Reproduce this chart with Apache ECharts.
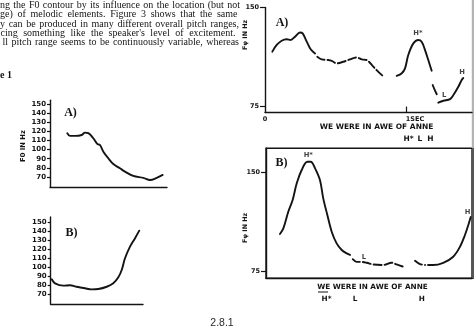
<!DOCTYPE html>
<html>
<head>
<meta charset="utf-8">
<script src="https://cdn.jsdelivr.net/npm/echarts@6/dist/echarts.min.js"></script>
<style>
html,body{margin:0;padding:0;background:#fff}
#c{width:474px;height:333px}
</style>
</head>
<body>
<div id="c"></div>
<script>
// Paragraph running above the figures
const bodyLines = [
  'ng the F0 contour by its influence on the location (but not',
  'ge) of melodic elements.  Figure 3 shows that the same',
  'y can be produced in many different overall pitch ranges,',
  'cing something like the speaker\'s level of excitement.',
  'll pitch range seems to be continuously variable, whereas'
];
const figLabel = 'e 1';
const pageNumber = '2.8.1';
const sentence = 'WE WERE IN AWE OF ANNE';

// Tick labels
const leftTicks = [70, 80, 90, 100, 110, 120, 130, 140, 150];
const rightTicks = [75, 150];
const timeTicks = [0, 1];

// Small panels (left): [relative time, F0 Hz]
const contourLA = [
  [0.148, 117.9], [0.171, 115], [0.214, 115], [0.271, 116], [0.299, 118.6],
  [0.328, 118], [0.370, 112.4], [0.404, 106.2], [0.427, 105], [0.456, 97.7],
  [0.498, 90.5], [0.541, 84.2], [0.598, 79.5], [0.641, 75.8], [0.712, 71.1],
  [0.797, 69], [0.855, 66.7], [0.912, 69], [0.963, 72.2]
];
const contourLB = [
  [0.009, 86.7], [0.037, 82.2], [0.108, 79.6], [0.165, 80], [0.222, 78.4],
  [0.293, 76.7], [0.350, 75.5], [0.407, 75.9], [0.479, 78.4], [0.535, 82.2],
  [0.578, 88.9], [0.607, 97], [0.635, 110], [0.678, 123], [0.721, 132.3],
  [0.757, 140.7]
];

// Large panel A: [seconds, F0 Hz], one array per drawn stretch
const raSeg1 = [
  [0.052, 116.4], [0.083, 121.5], [0.118, 124.7], [0.154, 125.8], [0.182, 125.3],
  [0.213, 127.8], [0.248, 131], [0.267, 130.3], [0.296, 124], [0.324, 118.2],
  [0.355, 115]
];
const raSeg2 = [
  [0.371, 112.5], [0.402, 110.5], [0.449, 110], [0.473, 109.3], [0.509, 107.5],
  [0.555, 108.7], [0.603, 110.5], [0.650, 112], [0.686, 110.5], [0.721, 110],
  [0.768, 105], [0.804, 101], [0.835, 98]
];
const raSeg3 = [
  [0.934, 98], [0.970, 100], [0.993, 103.7], [1.016, 113.8], [1.052, 122.7],
  [1.087, 125.3], [1.111, 124], [1.135, 117.6], [1.158, 110], [1.182, 101.9]
];
const raSeg4 = [[1.189, 91], [1.206, 86.7], [1.218, 84]];
const raSeg5 = [
  [1.229, 77.5], [1.265, 79], [1.312, 80.3], [1.336, 83.4], [1.371, 89.7],
  [1.395, 94.8], [1.406, 96.3]
];
const raTones = [[1.085, 130.6, 'H*'], [1.270, 83.4, 'L'], [1.397, 100.9, 'H']];

// Large panel B: [seconds, F0 Hz]
const rbSeg1 = [
  [0.099, 103.1], [0.123, 107.4], [0.158, 120], [0.189, 129], [0.218, 141.6],
  [0.253, 151.7], [0.293, 158], [0.317, 158], [0.348, 153], [0.383, 144],
  [0.406, 130.2], [0.435, 117.6], [0.466, 104.9], [0.501, 96], [0.537, 91],
  [0.572, 88.4], [0.596, 87.2]
];
const rbSeg2 = [
  [0.615, 84], [0.643, 82], [0.667, 82], [0.714, 81.3], [0.761, 80],
  [0.832, 79.6], [0.891, 81.3], [0.927, 80], [0.974, 78.3]
];
const rbSeg3 = [[1.057, 82.8], [1.092, 80.3], [1.128, 79.6]];
const rbSeg4 = [
  [1.149, 79.6], [1.186, 79.6], [1.257, 81.3], [1.328, 85.9], [1.376, 93.5],
  [1.411, 102.4], [1.435, 110], [1.452, 116]
];
const rbTones = [[0.300, 163.1, 'H*'], [0.695, 85.4, 'L'], [1.430, 119.3, 'H']];

const INK = '#141414';
const SANS = 'DejaVu Sans';
const SERIF = 'Liberation Serif';

// Justified paragraph: each word placed so the line fills its measure
const measure = document.createElement('canvas').getContext('2d');
function justifiedLine(line, x0, x1, y, font) {
  measure.font = font;
  const words = line.split(/\s+/);
  const widths = words.map(w => measure.measureText(w).width);
  const total = widths.reduce((a, b) => a + b, 0);
  const space = measure.measureText(' ').width;
  let gap = words.length > 1 ? (x1 - x0 - total) / (words.length - 1) : 0;
  if (gap < space * 0.7) gap = space * 0.7;
  const out = [];
  let x = x0;
  words.forEach((w, i) => {
    out.push({
      type: 'text', x: x, y: y, silent: true,
      style: { text: w, font: font, fill: INK, align: 'left', verticalAlign: 'middle',
               textAlign: 'left', textVerticalAlign: 'middle' }
    });
    x += widths[i] + gap;
  });
  return out;
}

function txt(text, x, y, font, opts) {
  opts = opts || {};
  return {
    type: 'text', x: x, y: y, rotation: opts.rotation || 0, silent: true,
    style: { text: text, font: font, fill: opts.fill || INK,
             align: opts.align || 'center', verticalAlign: 'middle',
             textAlign: opts.align || 'center', textVerticalAlign: 'middle' }
  };
}

const bodyFont = '10px "' + SERIF + '"';
const lineY = [5.3, 14.8, 24.1, 33.3, 42.5];
const lineX = [[0, 240], [0, 237.5], [0, 239], [0.5, 235.5], [2.5, 239]];
let graphics = [];
bodyLines.forEach((l, i) => {
  graphics = graphics.concat(justifiedLine(l, lineX[i][0], lineX[i][1], lineY[i], bodyFont));
});

const capFont = 'bold 7.5px "' + SANS + '"';
const capFontB = 'bold 7.3px "' + SANS + '"';
const panelFont = 'bold 12px "' + SERIF + '"';
graphics.push(
  txt(figLabel, 0, 75, 'bold 10px "' + SERIF + '"', { align: 'left' }),
  txt('A)', 70.5, 113, panelFont),
  txt('B)', 71.5, 233, panelFont),
  txt('A)', 282, 23.3, panelFont),
  txt('B)', 281.5, 163.3, panelFont),
  txt('F0 IN Hz', 23, 146, 'bold 6.8px "' + SANS + '"', { rotation: Math.PI / 2 }),
  txt('F\u03c6 IN Hz', 245, 35, 'bold 6.3px "' + SANS + '"', { rotation: Math.PI / 2 }),
  txt('F\u03c6 IN Hz', 245, 228, 'bold 6.3px "' + SANS + '"', { rotation: Math.PI / 2 }),
  txt(sentence, 376.5, 127.3, capFont),
  txt('H*', 408.5, 139, capFont),
  txt('L', 420, 139, capFont),
  txt('H', 430.5, 139, capFont),
  txt(sentence, 372.5, 286.7, capFontB),
  txt('H*', 326.5, 299.5, capFontB),
  txt('L', 355, 299.5, capFontB),
  txt('H', 421.7, 299.5, capFontB),
  txt(pageNumber, 222, 323, '10.5px "Liberation Sans"', { fill: '#2a2a2a' }),
  {
    type: 'line', silent: true,
    shape: { x1: 318, y1: 292, x2: 328, y2: 292 },
    style: { stroke: INK, lineWidth: 1 }
  },
  {
    type: 'rect', silent: true,
    shape: { x: 471.8, y: 0, width: 2.2, height: 148 },
    style: { fill: '#b4b4b4' }
  },
  {
    type: 'rect', silent: true,
    shape: { x: 472.2, y: 148, width: 1.8, height: 131 },
    style: { fill: '#555' }
  }
);

const axisLine = { show: true, lineStyle: { color: INK, width: 1.4 } };
const tickLabel = { fontFamily: SANS, fontWeight: 'bold', color: INK };

function plainX(grid, max) {
  return {
    gridIndex: grid, type: 'value', min: 0, max: max,
    axisLine: axisLine, axisTick: { show: false }, axisLabel: { show: false },
    splitLine: { show: false }
  };
}
function fY(grid, min, max, ticks, fontSize, tickLen, margin) {
  return {
    gridIndex: grid, type: 'value', min: min, max: max,
    axisLine: axisLine,
    axisTick: { show: true, customValues: ticks, length: tickLen, lineStyle: { color: INK, width: 1.2 } },
    axisLabel: Object.assign({ customValues: ticks, fontSize: fontSize, margin: margin }, tickLabel),
    splitLine: { show: false }
  };
}

const curve = { width: 1.9, color: INK };
function line(x, y, data, dashed) {
  return {
    type: 'line', xAxisIndex: x, yAxisIndex: y, data: data,
    showSymbol: false, smooth: 0.35, silent: true, animation: false,
    lineStyle: Object.assign({ type: dashed ? [8, 3] : 'solid', cap: 'round' }, curve)
  };
}
function tones(x, y, data) {
  return {
    type: 'scatter', xAxisIndex: x, yAxisIndex: y, data: data,
    symbolSize: 0, silent: true, animation: false,
    label: {
      show: true, position: 'inside', formatter: p => p.value[2],
      fontFamily: SANS, fontWeight: 'bold', fontSize: 6.8, color: INK
    }
  };
}

const chart = echarts.init(document.getElementById('c'), null, { renderer: 'canvas' });
chart.setOption({
  backgroundColor: '#fff',
  animation: false,
  grid: [
    { left: 50, top: 100.3, width: 117, height: 86.7 },
    { left: 50.7, top: 216.9, width: 92.3, height: 87.3 },
    { left: 265, top: 7.5, width: 207, height: 105.1 },
    { left: 266, top: 148.3, width: 206, height: 130, show: true, borderColor: INK, borderWidth: 1.4 }
  ],
  xAxis: [
    plainX(0, 1),
    plainX(1, 0.789),
    {
      gridIndex: 2, type: 'value', min: 0, max: 1.468,
      axisLine: axisLine,
      axisTick: { show: true, customValues: [1], inside: true, length: 6, lineStyle: { color: INK, width: 1.2 } },
      axisLabel: Object.assign({
        customValues: timeTicks, fontSize: 6.5, margin: 3,
        formatter: v => (v === 1 ? '{s|1SEC}' : String(v)),
        rich: { s: { fontFamily: SANS, fontWeight: 'bold', fontSize: 6.5, color: INK, padding: [0, 0, 0, 18] } }
      }, tickLabel),
      splitLine: { show: false }
    },
    plainX(3, 1.461)
  ],
  yAxis: [
    fY(0, 59, 154, leftTicks, 7, 3, 4),
    fY(1, 59, 156, leftTicks, 7, 3, 4),
    fY(2, 70, 150, rightTicks, 6.5, 5, 6),
    fY(3, 69.5, 168.2, rightTicks, 6.5, 5, 6)
  ],
  series: [
    line(0, 0, contourLA, false),
    line(1, 1, contourLB, false),
    line(2, 2, raSeg1, false),
    line(2, 2, raSeg2, true),
    line(2, 2, raSeg3, false),
    line(2, 2, raSeg4, false),
    line(2, 2, raSeg5, false),
    tones(2, 2, raTones),
    line(3, 3, rbSeg1, false),
    line(3, 3, rbSeg2, true),
    line(3, 3, rbSeg3, true),
    line(3, 3, rbSeg4, false),
    tones(3, 3, rbTones)
  ],
  graphic: { elements: graphics }
});
</script>
</body>
</html>
